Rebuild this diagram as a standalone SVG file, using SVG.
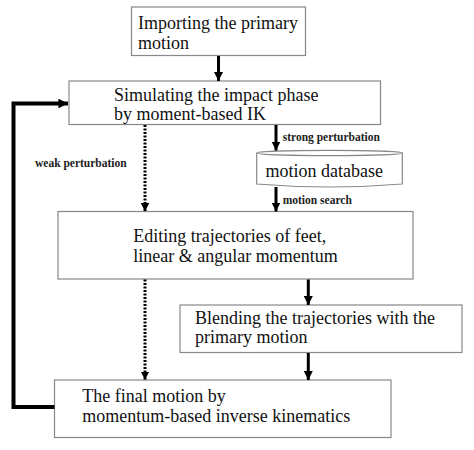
<svg xmlns="http://www.w3.org/2000/svg" width="474" height="450" viewBox="0 0 474 450">
<style>
.box{fill:#fff;stroke:#888;stroke-width:1.2}
.t{font-family:"Liberation Serif","Times New Roman",serif;font-size:18px;fill:#111}
.s{font-family:"Liberation Serif","Times New Roman",serif;font-size:11.5px;font-weight:bold;fill:#222}
.solid{stroke:#000;stroke-width:3;fill:none}
.dash{stroke:#000;stroke-width:3;fill:none;stroke-dasharray:2 1.5}
.loop{stroke:#000;stroke-width:4;fill:none}
</style>
<defs>
<marker id="ah" viewBox="0 0 10 10" refX="10" refY="5" markerWidth="3" markerHeight="3" orient="auto" markerUnits="strokeWidth">
<path d="M0,0 L10,5 L0,10 z" fill="#000"/>
</marker>
<marker id="ahd" viewBox="0 0 10 10" refX="10" refY="5" markerWidth="2.8" markerHeight="2.8" orient="auto" markerUnits="strokeWidth">
<path d="M0,0 L10,5 L0,10 z" fill="#000"/>
</marker>
<marker id="ahl" viewBox="0 0 10 10" refX="10" refY="5" markerWidth="3" markerHeight="2.4" orient="auto" markerUnits="strokeWidth">
<path d="M0,0 L10,5 L0,10 z" fill="#000"/>
</marker>
</defs>
<rect width="474" height="450" fill="#fff"/>
<g id="n1">
<rect class="box" x="131.5" y="7" width="174" height="48.5"/>
<text class="t" x="138" y="29">Importing the primary</text>
<text class="t" x="138" y="48.5">motion</text>
</g>
<g id="n2">
<rect class="box" x="69" y="81" width="311.5" height="43.5"/>
<text class="t" x="114" y="101">Simulating the impact phase</text>
<text class="t" x="114" y="120">by moment-based IK</text>
</g>
<g id="n3">
<path class="box" d="M256.7,153 L256.7,184 Q329.5,190 402.3,184 L402.3,153"/>
<ellipse class="box" cx="329.5" cy="153" rx="72.8" ry="2.6"/>
<text class="t" x="265.5" y="177">motion database</text>
</g>
<g id="n4">
<rect class="box" x="58" y="211.5" width="355" height="67.5"/>
<text class="t" x="133.3" y="242.3">Editing trajectories of feet,</text>
<text class="t" x="133.3" y="262.3">linear &amp; angular momentum</text>
</g>
<g id="n5">
<rect class="box" x="180" y="305" width="282" height="47.5"/>
<text class="t" x="195" y="324.3">Blending the trajectories with the</text>
<text class="t" x="195" y="343.3">primary motion</text>
</g>
<g id="n6">
<rect class="box" x="54.5" y="380" width="336.5" height="57.5"/>
<text class="t" x="82.3" y="402.3">The final motion by</text>
<text class="t" x="82.3" y="421.7">momentum-based inverse kinematics</text>
</g>
<g id="connectors">
<line class="solid" x1="218.5" y1="56" x2="218.5" y2="81" marker-end="url(#ah)"/>
<line class="solid" x1="276" y1="125" x2="276" y2="150.5" marker-end="url(#ah)"/>
<line class="solid" x1="276" y1="187" x2="276" y2="211.5" marker-end="url(#ah)"/>
<line class="solid" x1="308.3" y1="279.5" x2="308.3" y2="305" marker-end="url(#ah)"/>
<line class="solid" x1="308.3" y1="353" x2="308.3" y2="380" marker-end="url(#ah)"/>
<line class="dash" x1="145" y1="125" x2="145" y2="211.5" marker-end="url(#ahd)"/>
<line class="dash" x1="145" y1="279.5" x2="145" y2="380" marker-end="url(#ahd)"/>
<path class="loop" d="M54.5,407 L13.5,407 L13.5,103.5 L68,103.5" marker-end="url(#ahl)"/>
<text class="s" x="282.7" y="140.7">strong perturbation</text>
<text class="s" x="282.7" y="204">motion search</text>
<text class="s" x="35" y="166.7">weak perturbation</text>
</g>
</svg>
